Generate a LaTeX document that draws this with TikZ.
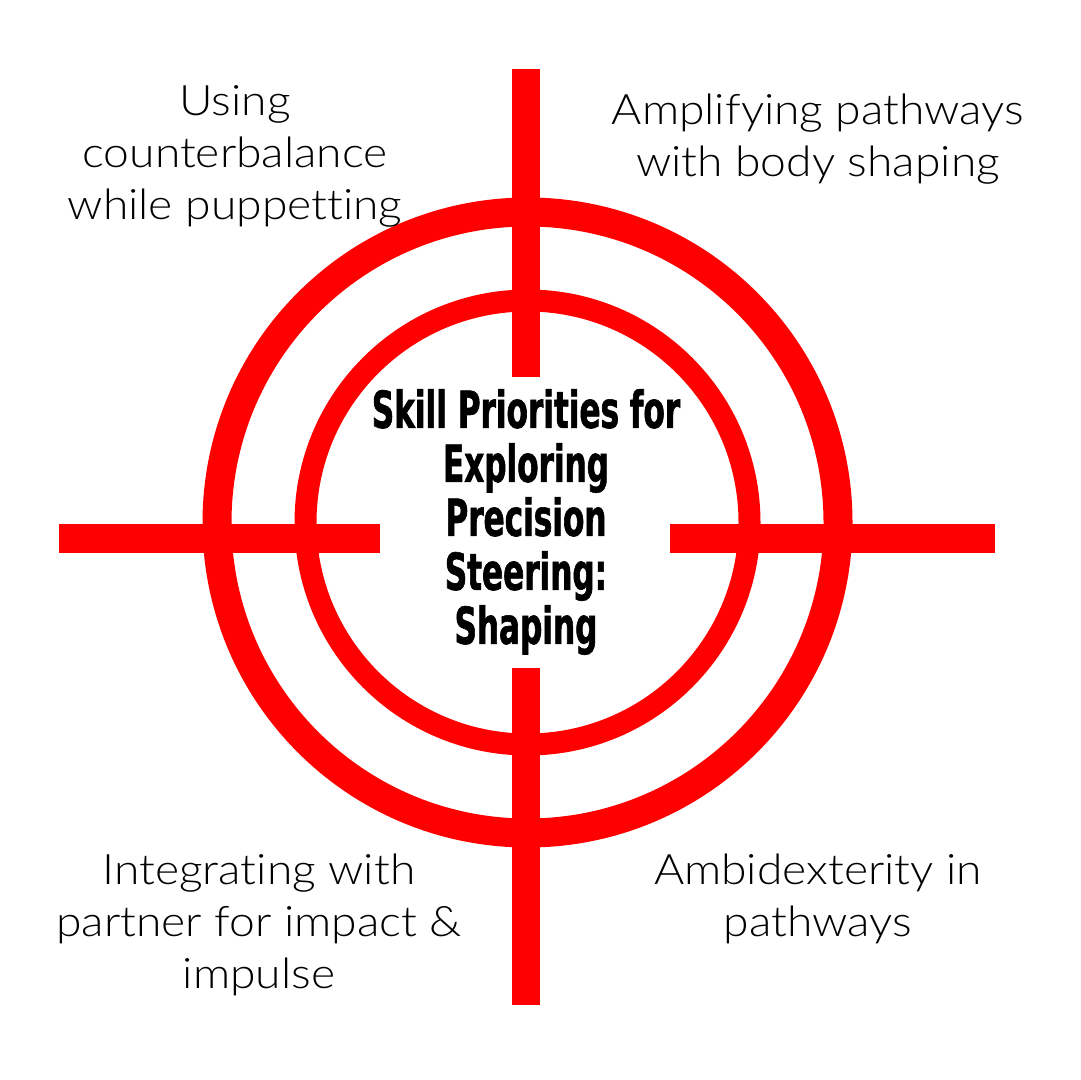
\documentclass[tikz,border=0pt]{standalone}
\usepackage{fontspec}
\setmainfont{Lato}[UprightFont={* Light}, Ligatures={NoCommon}, FakeStretch=1.1]
\newfontfamily\titlefont{DejaVu Sans}[FakeStretch=0.61, BoldFeatures={FakeBold=1.2}]
\definecolor{targetred}{HTML}{FF0000}
\begin{document}
\begin{tikzpicture}[x=0.5pt,y=-0.5pt,
  ring/.style={draw=targetred},
  bar/.style={fill=targetred},
  label/.style={inner sep=0pt, align=center, font=\fontsize{21}{26}\selectfont, text=black},
  title/.style={inner sep=0pt, align=center, font=\titlefont\bfseries\fontsize{25.5}{27}\selectfont, text=black}]
\useasboundingbox[fill=white] (0,0) rectangle (1080,1080);
\coordinate (c) at (527.5,522.5);
\draw[ring, line width=14.5pt] (c) circle (310.5);
\draw[ring, line width=11pt] (c) circle (222);
\fill[bar] (512,69) rectangle (540,377);
\fill[bar] (512,668) rectangle (540,1005);
\fill[bar] (59,524) rectangle (380,553);
\fill[bar] (670,524) rectangle (995,553);
\node[title] (t) at (526,522) {Skill Priorities for\\Exploring\\Precision\\Steering:\\Shaping};
\node[label] (tl) at (235,156) {Using\\counterbalance\\while puppetting};
\node[label] (tr) at (818,139) {Amplifying pathways\\with body shaping};
\node[label] (bl) at (259,925) {Integrating with\\partner for impact \&\\impulse};
\node[label] (br) at (818,899) {Ambidexterity in\\pathways};
\end{tikzpicture}
\end{document}
